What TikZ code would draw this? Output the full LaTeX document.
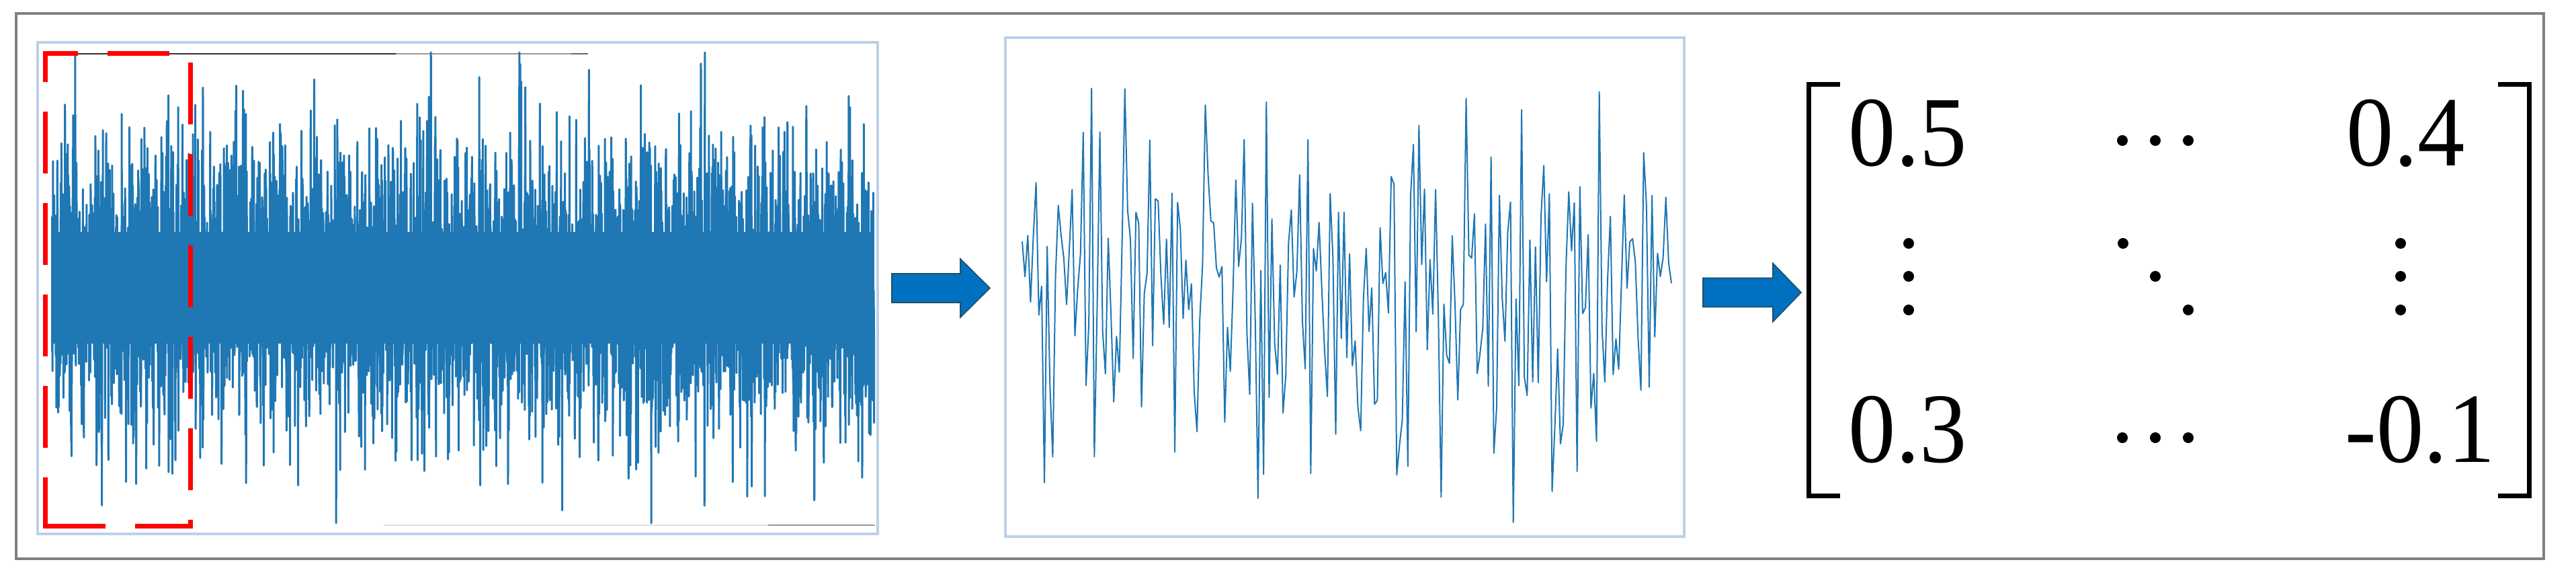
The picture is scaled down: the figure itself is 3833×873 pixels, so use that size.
\documentclass[tikz,border=0pt]{standalone}
\usepackage{fontspec}
\setmainfont{Liberation Serif}
\newfontfamily\matfont[FakeStretch=0.95]{Liberation Serif}
\definecolor{sigblue}{RGB}{31,119,180}
\definecolor{panelblue}{RGB}{189,208,233}
\definecolor{framegray}{RGB}{128,128,128}
\definecolor{arrowfill}{RGB}{0,112,192}
\definecolor{arrowline}{RGB}{31,80,100}
\definecolor{boxred}{RGB}{255,0,0}
\begin{document}
\begin{tikzpicture}[x=0.25pt,y=-0.25pt,
  outerframe/.style={draw=framegray, line width=1pt},
  panel/.style={draw=panelblue, line width=1pt},
  densesig/.style={draw=sigblue, line width=0.75pt, line join=round},
  thinsig/.style={draw=sigblue, line width=0.5pt, line join=round},
  redbox/.style={draw=boxred, line width=1.75pt, dash pattern=on 23pt off 11pt, line join=miter},
  spine/.style={line width=0.45pt},
  bracket/.style={draw=black, line width=1.75pt, line join=miter},
  entry/.style={inner sep=0pt, anchor=base west, font=\matfont\fontsize{37pt}{40pt}\selectfont},
  mdot/.style={fill=black, draw=none},
  blockarrow/.pic={\filldraw[fill=arrowfill, draw=arrowline, line width=0.4pt]
     (0,-21.5) -- (#1,-21.5) -- (#1,-43.5) -- (146,0) -- (#1,43.5) -- (#1,21.5) -- (0,21.5) -- cycle;}
]
\useasboundingbox[fill=white] (0,0) rectangle (3833,873);
% outer frame
\draw[outerframe] (24,20) rectangle (3785,831);

% ---------- left panel ----------
\draw[panel] (56,63) rectangle (1306,794);
\draw[spine, black!80] (116,80) -- (589,80);
\draw[spine, black!40] (589,80) -- (850,80);
\draw[spine, black!60] (850,80) -- (875,80);
\draw[spine, black!12] (571,781) -- (1143,781);
\draw[spine, black!40] (1143,781) -- (1302,781);
\begin{scope}
\clip (76,66) rectangle (1302,792);
\fill[sigblue] (78,345) rectangle (1300,511);
\pgfmathsetseed{2718}
\draw[densesig] plot[samples=4200, domain=76:1302]
  (\x, {428 + max(-350,min(350, 108*sqrt(-2*ln(0.0001+0.9998*rnd))*cos(360*rnd)))});
\end{scope}
% red dashed window
\draw[redbox, dash phase=10.75pt] (67,80) -- (283,80) -- (283,783) -- (67,783);
\draw[redbox, dash phase=11.5pt] (67,76.5) -- (67,786.5);

% ---------- arrow 1 ----------
\pic at (1327,428.5) {blockarrow=102};

% ---------- middle panel ----------
\draw[panel] (1496,56) rectangle (2506,798);
\pgfmathsetseed{31415}
\draw[thinsig] plot[samples=235, domain=1521:2487]
  (\x, {429 + max(-348,min(348, 140*sqrt(-2*ln(0.0001+0.9998*rnd))*cos(360*rnd)))});

% ---------- arrow 2 ----------
\pic at (2534,435) {blockarrow=104};

% ---------- matrix ----------
\draw[bracket] (2738,125.5) -- (2691.5,125.5) -- (2691.5,737.5) -- (2738,737.5);
\draw[bracket] (3717,125.5) -- (3763,125.5) -- (3763,737.5) -- (3717,737.5);
\node[entry] (m11) at (2750,247) {0.5};
\node[entry] (m13) at (3491,247) {0.4};
\node[entry] (m31) at (2750,688) {0.3};
\node[entry] (m33) at (3489,688) {-0.1};
% cdots (row 1 and row 3)
\foreach \cx in {3158,3207,3256} {
  \fill[mdot] (\cx,209) circle (8);
  \fill[mdot] (\cx,651) circle (8);
}
% vdots
\foreach \cy in {362,411,461} {
  \fill[mdot] (2840,\cy) circle (8);
  \fill[mdot] (3572,\cy) circle (8);
}
% ddots
\fill[mdot] (3159,362) circle (8);
\fill[mdot] (3207,411) circle (8);
\fill[mdot] (3256,461) circle (8);
\end{tikzpicture}
\end{document}
